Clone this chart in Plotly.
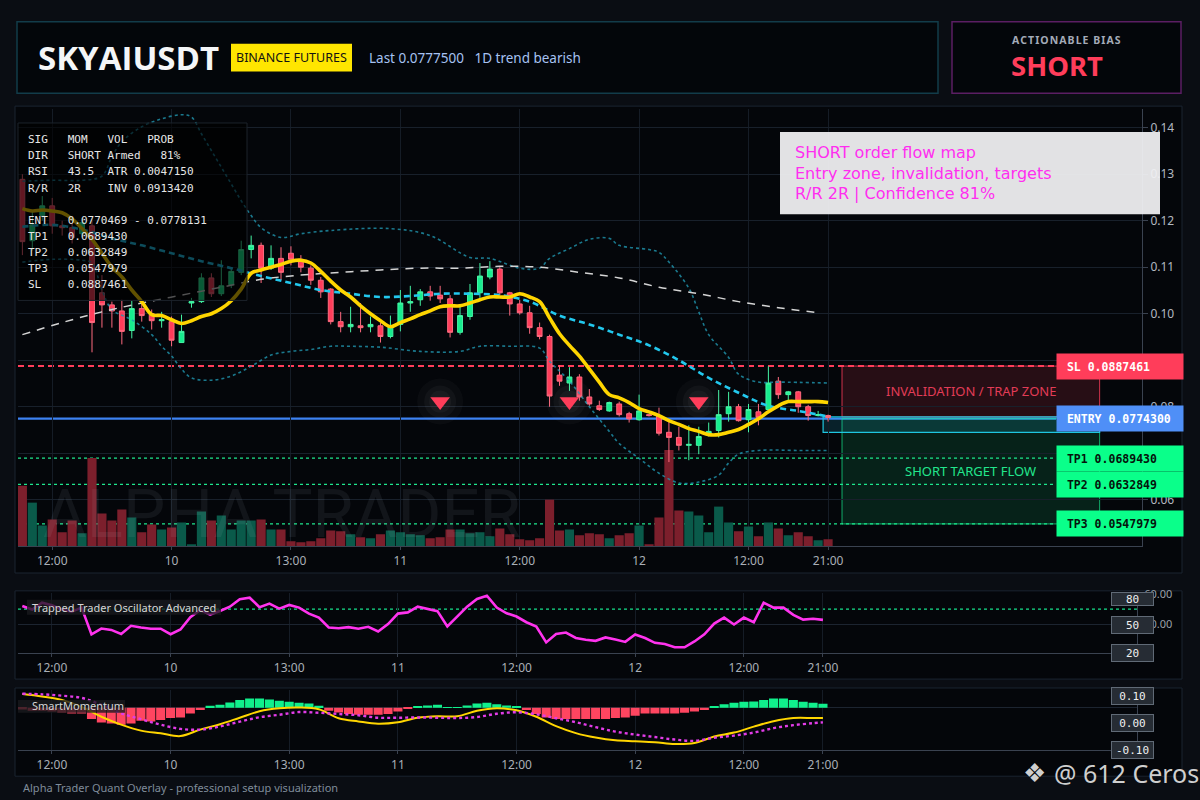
import plotly.graph_objects as go

W, H = 1200, 800

# ---- data --------------------------------------------------------------
BARS = list(range(82))                      # hourly candles, bar number
TICK_BARS = [3, 15, 27, 38, 50, 62, 73, 81]
TICK_TEXT = ["12:00", "10", "13:00", "11", "12:00", "12", "12:00", "21:00"]
PRICE_TICKS = [0.06, 0.07, 0.08, 0.09, 0.10, 0.11, 0.12, 0.13, 0.14]
PRICE_TICK_TEXT = ["0.06", "", "0.08", "", "0.10", "0.11", "0.12", "0.13", "0.14"]  # 0.07/0.09 sit under the level tags

OPEN = [0.1289, 0.1157, 0.1211, 0.1232, 0.1189, 0.1185, 0.1172, 0.1189, 0.1045, 0.1019,
        0.1006, 0.0964, 0.1011, 0.1000, 0.0985, 0.0983, 0.0938, 0.1023, 0.1026, 0.1077,
        0.1043, 0.1062, 0.1089, 0.1138, 0.1147, 0.1098, 0.1119, 0.1130, 0.1117, 0.1098,
        0.1072, 0.1053, 0.0983, 0.0972, 0.0974, 0.0972, 0.0974, 0.0951, 0.0977, 0.1023,
        0.1030, 0.1047, 0.1040, 0.1032, 0.0960, 0.0994, 0.1045, 0.1079, 0.1096, 0.1045,
        0.1021, 0.1002, 0.0970, 0.0951, 0.0868, 0.0851, 0.0864, 0.0821, 0.0802, 0.0791,
        0.0806, 0.0785, 0.0772, 0.0783, 0.0781, 0.0745, 0.0734, 0.0717, 0.0717, 0.0740,
        0.0749, 0.0785, 0.0800, 0.0772, 0.0789, 0.0794, 0.0855, 0.0826, 0.0832, 0.0800,
        0.0781, 0.0781]
HIGH = [0.1300, 0.1221, 0.1253, 0.1249, 0.1200, 0.1194, 0.1206, 0.1200, 0.1083, 0.1026,
        0.1030, 0.1028, 0.1026, 0.1009, 0.1004, 0.0994, 0.0998, 0.1034, 0.1087, 0.1087,
        0.1115, 0.1100, 0.1157, 0.1168, 0.1153, 0.1147, 0.1143, 0.1145, 0.1126, 0.1104,
        0.1079, 0.1055, 0.1004, 0.1015, 0.1023, 0.0994, 0.0981, 0.0996, 0.1051, 0.1060,
        0.1053, 0.1060, 0.1060, 0.1040, 0.1017, 0.1064, 0.1109, 0.1113, 0.1100, 0.1047,
        0.1030, 0.1017, 0.0981, 0.0955, 0.0889, 0.0885, 0.0870, 0.0838, 0.0813, 0.0811,
        0.0811, 0.0789, 0.0826, 0.0785, 0.0798, 0.0774, 0.0757, 0.0760, 0.0757, 0.0766,
        0.0836, 0.0832, 0.0806, 0.0806, 0.0806, 0.0887, 0.0864, 0.0834, 0.0834, 0.0804,
        0.0791, 0.0783]
LOW = [0.1126, 0.1136, 0.1200, 0.1172, 0.1168, 0.1151, 0.1164, 0.0917, 0.0970, 0.0970,
       0.0934, 0.0947, 0.0983, 0.0966, 0.0970, 0.0930, 0.0938, 0.1013, 0.1023, 0.1036,
       0.1038, 0.1055, 0.1083, 0.1119, 0.1066, 0.1094, 0.1072, 0.1104, 0.1089, 0.1062,
       0.1034, 0.0977, 0.0960, 0.0960, 0.0960, 0.0960, 0.0938, 0.0947, 0.0962, 0.1004,
       0.1017, 0.1028, 0.1023, 0.0949, 0.0955, 0.0987, 0.1034, 0.1074, 0.1040, 0.0996,
       0.0998, 0.0957, 0.0945, 0.0800, 0.0845, 0.0834, 0.0813, 0.0802, 0.0791, 0.0789,
       0.0779, 0.0766, 0.0770, 0.0779, 0.0738, 0.0681, 0.0706, 0.0685, 0.0698, 0.0736,
       0.0734, 0.0768, 0.0768, 0.0745, 0.0760, 0.0791, 0.0817, 0.0813, 0.0787, 0.0770,
       0.0779, 0.0768]
CLOSE = [0.1155, 0.1191, 0.1232, 0.1189, 0.1185, 0.1164, 0.1196, 0.0981, 0.1019, 0.1006,
         0.0962, 0.1011, 0.0996, 0.0985, 0.0987, 0.0943, 0.0962, 0.1026, 0.1077, 0.1043,
         0.1060, 0.1091, 0.1138, 0.1147, 0.1098, 0.1119, 0.1089, 0.1117, 0.1100, 0.1072,
         0.1047, 0.0983, 0.0972, 0.0977, 0.0970, 0.0977, 0.0951, 0.0974, 0.1023, 0.1026,
         0.1047, 0.1038, 0.1032, 0.0960, 0.0996, 0.1045, 0.1081, 0.1096, 0.1045, 0.1021,
         0.1002, 0.0970, 0.0951, 0.0823, 0.0855, 0.0864, 0.0821, 0.0806, 0.0794, 0.0809,
         0.0783, 0.0774, 0.0791, 0.0781, 0.0743, 0.0734, 0.0717, 0.0719, 0.0736, 0.0747,
         0.0783, 0.0800, 0.0770, 0.0794, 0.0777, 0.0851, 0.0826, 0.0832, 0.0800, 0.0781,
         0.0783, 0.0777]
VOLUME = [61, 44, 21, 27, 14, 26, 13, 89, 33, 26, 37, 29, 14, 22, 17, 19, 24, 2, 35, 26,
          31, 17, 26, 26, 27, 17, 17, 5, 4, 5, 8, 16, 15, 12, 9, 8, 12, 16, 14, 12,
          11, 8, 9, 17, 17, 13, 14, 10, 18, 12, 7, 6, 8, 47, 16, 17, 11, 13, 12, 8,
          11, 13, 21, 2, 29, 97, 36, 35, 31, 14, 40, 24, 15, 20, 10, 24, 18, 11, 14, 10,
          6, 7]

EMA_FAST = [0.1226, 0.1221, 0.1223, 0.1221, 0.1217, 0.1204, 0.1183, 0.1160, 0.1130, 0.1100,
            0.1079, 0.1051, 0.1026, 0.0998, 0.0996, 0.0987, 0.0979, 0.0985, 0.0994, 0.1000,
            0.1011, 0.1028, 0.1053, 0.1087, 0.1094, 0.1100, 0.1106, 0.1113, 0.1115, 0.1109,
            0.1091, 0.1070, 0.1051, 0.1036, 0.1017, 0.1000, 0.0985, 0.0972, 0.0981, 0.0989,
            0.0998, 0.1006, 0.1015, 0.1017, 0.1017, 0.1023, 0.1030, 0.1036, 0.1036, 0.1036,
            0.1043, 0.1036, 0.1026, 0.0991, 0.0957, 0.0932, 0.0909, 0.0881, 0.0853, 0.0826,
            0.0819, 0.0809, 0.0796, 0.0789, 0.0781, 0.0770, 0.0762, 0.0753, 0.0747, 0.0740,
            0.0740, 0.0745, 0.0751, 0.0762, 0.0774, 0.0789, 0.0802, 0.0811, 0.0811, 0.0811,
            0.0811, 0.0809]

MID_BARS = list(range(0, 82, 3))
MID_BAND = [0.1187, 0.1191, 0.1181, 0.1162, 0.1147, 0.1130, 0.1113, 0.1098, 0.1081, 0.1066,
            0.1051, 0.1043, 0.1036, 0.1038, 0.1043, 0.1043, 0.1040, 0.1026, 0.0996, 0.0977,
            0.0955, 0.0932, 0.0900, 0.0862, 0.0830, 0.0802, 0.0791, 0.0779]

SLOW_BARS = list(range(0, 81, 4))
SLOW_MA = [0.0955, 0.0981, 0.1004, 0.1023, 0.1040, 0.1057, 0.1074, 0.1083, 0.1089, 0.1094,
           0.1098, 0.1098, 0.1102, 0.1100, 0.1089, 0.1077, 0.1057, 0.1043, 0.1026, 0.1013,
           0.1002]

UP_BARS = [0, 3, 6, 8, 9, 10, 12, 14, 16, 17, 18, 19, 20, 21, 22, 23, 24, 26, 28, 31,
           37, 41, 45, 47, 50, 52, 53, 55, 57, 59, 60, 63, 64, 65, 67, 68, 69, 71, 72, 74,
           76, 81]
UP_BAND = [0.1285, 0.1287, 0.1287, 0.1296, 0.1338, 0.1370, 0.1402, 0.1419, 0.1428, 0.1423,
           0.1387, 0.1351, 0.1315, 0.1279, 0.1243, 0.1211, 0.1185, 0.1164, 0.1172, 0.1179,
           0.1183, 0.1168, 0.1121, 0.1119, 0.1098, 0.1098, 0.1119, 0.1140, 0.1160, 0.1162,
           0.1147, 0.1138, 0.1132, 0.1111, 0.1055, 0.1004, 0.0955, 0.0906, 0.0870, 0.0853,
           0.0853, 0.0851]
LO_BARS = [0, 3, 6, 7, 8, 9, 11, 13, 14, 15, 16, 17, 19, 21, 23, 25, 27, 29, 31, 33,
           36, 40, 44, 46, 49, 52, 53, 55, 57, 59, 60, 62, 64, 66, 68, 70, 71, 72, 74, 78,
           81]
LO_BAND = [0.1111, 0.1117, 0.1115, 0.1109, 0.1051, 0.1009, 0.0987, 0.0955, 0.0930, 0.0909,
           0.0881, 0.0862, 0.0857, 0.0866, 0.0887, 0.0911, 0.0919, 0.0923, 0.0930, 0.0930,
           0.0928, 0.0919, 0.0919, 0.0930, 0.0930, 0.0926, 0.0898, 0.0855, 0.0800, 0.0747,
           0.0721, 0.0689, 0.0657, 0.0636, 0.0638, 0.0653, 0.0679, 0.0698, 0.0706, 0.0706,
           0.0706]

SIGNAL_BARS = [42, 55, 68]
SIGNAL_PRICE = [0.0811, 0.0811, 0.0811]

SL = 0.0887461
ENTRY = 0.0774300
ENT_LO, ENT_HI = 0.0770469, 0.0778131
TP1, TP2, TP3 = 0.0689430, 0.0632849, 0.0547979
ENTRY_BOX_LOW = 0.0745

INFO_LINES = [
    "SIG   MOM   VOL   PROB",
    "DIR   SHORT Armed   81%",
    "RSI   43.5  ATR 0.0047150",
    "R/R   2R    INV 0.0913420",
    "",
    "ENT   0.0770469 - 0.0778131",
    "TP1   0.0689430",
    "TP2   0.0632849",
    "TP3   0.0547979",
    "SL    0.0887461",
]
NOTE_LINES = ["SHORT order flow map", "Entry zone, invalidation, targets", "R/R 2R | Confidence 81%"]

OSC = [52.0, 49.7, 54.2, 52.6, 49.7, 48.4, 51.0, 33.6, 37.4, 36.5,
       33.9, 39.2, 38.1, 37.3, 37.3, 33.7, 36.8, 44.8, 49.4, 46.5,
       48.8, 51.6, 56.5, 57.4, 51.3, 53.6, 50.3, 52.7, 51.0, 47.1,
       44.5, 38.1, 37.6, 38.3, 37.3, 38.5, 35.5, 40.3, 47.1, 47.9,
       51.6, 50.0, 48.7, 38.7, 45.2, 51.6, 56.6, 58.7, 51.0, 47.3,
       45.2, 41.5, 38.7, 28.4, 33.9, 34.8, 31.3, 30.1, 29.4, 31.6,
       30.2, 28.7, 33.5, 31.2, 28.1, 27.3, 25.2, 25.2, 29.0, 33.6,
       40.6, 44.5, 40.0, 44.5, 41.5, 54.2, 51.0, 51.0, 46.3, 43.2,
       43.7, 43.0]
OSC_LEVEL = 50

MOM_HIST = [-0.017, -0.030, -0.030, -0.037, -0.047, -0.057, -0.057, -0.113, -0.147, -0.157,
            -0.170, -0.157, -0.130, -0.137, -0.123, -0.103, -0.097, -0.057, -0.023, 0.020,
            0.030, 0.053, 0.080, 0.093, 0.093, 0.083, 0.070, 0.060, 0.050, 0.043,
            0.020, -0.030, -0.047, -0.063, -0.070, -0.070, -0.070, -0.063, -0.037, -0.013,
            0.013, 0.023, 0.030, 0.003, 0.003, 0.023, 0.043, 0.050, 0.037, 0.023,
            0.010, -0.023, -0.063, -0.097, -0.113, -0.113, -0.113, -0.113, -0.113, -0.113,
            -0.103, -0.097, -0.080, -0.057, -0.057, -0.057, -0.057, -0.050, -0.037, -0.023,
            0.013, 0.037, 0.050, 0.060, 0.063, 0.080, 0.093, 0.093, 0.080, 0.060,
            0.050, 0.040]
MOM_BARS = list(range(0, 81, 2)) + [81]
MOM_FAST = [0.140, 0.115, 0.080, 0.010, -0.090, -0.170, -0.230, -0.257, -0.285, -0.220,
            -0.165, -0.100, -0.035, -0.005, 0.003, -0.015, -0.105, -0.137, -0.160, -0.145,
            -0.100, -0.085, -0.085, -0.030, -0.005, -0.025, -0.090, -0.185, -0.255, -0.300,
            -0.328, -0.337, -0.347, -0.365, -0.355, -0.290, -0.250, -0.190, -0.135, -0.103,
            -0.103, -0.103]
MOM_SLOW = [0.142, 0.136, 0.122, 0.100, 0.030, -0.055, -0.115, -0.170, -0.213, -0.220,
            -0.188, -0.140, -0.095, -0.070, -0.043, -0.050, -0.062, -0.075, -0.100, -0.100,
            -0.097, -0.100, -0.103, -0.093, -0.060, -0.045, -0.065, -0.105, -0.145, -0.195,
            -0.240, -0.270, -0.295, -0.320, -0.333, -0.302, -0.280, -0.250, -0.205, -0.175,
            -0.155, -0.147]

# ---- colours -------------------------------------------------------------
BG = "#0a0d13"
PANEL = "#04060a"
GRID = "#151c26"
AXIS = "#3a4250"
GREEN = "#17ec8e"
RED = "#ff3d5a"
YELLOW = "#ffd500"
MAGENTA = "#ff33ee"


def px(x):
    return x / W


def py(y):
    return 1 - y / H


shapes = []
annotations = []


def rect(x0, y0, x1, y1, fill, line=None, lw=1.0, layer="below"):
    shapes.append(dict(type="rect", xref="paper", yref="paper",
                       x0=px(x0), x1=px(x1), y0=py(y1), y1=py(y0),
                       fillcolor=fill, layer=layer,
                       line=dict(color=line if line else fill, width=lw if line else 0)))


def label(x, y, s, size, color, family="Noto Sans", anchor="left", weight="normal"):
    annotations.append(dict(xref="paper", yref="paper", x=px(x), y=py(y), text=s,
                            showarrow=False, xanchor=anchor, yanchor="middle",
                            font=dict(size=size, color=color, family=family, weight=weight)))


def nb(s):
    return s.replace(" ", "\u00a0")


fig = go.Figure()

# volume underneath everything (base axis of the price panel)
vol_colors = ["#0a5a4a" if c >= o else "#7c1f2c" for o, c in zip(OPEN, CLOSE)]
fig.add_trace(go.Bar(x=BARS, y=VOLUME, marker=dict(color=vol_colors, line=dict(width=0)),
                     xaxis="x", yaxis="y", hoverinfo="skip"))

# faint watermark, clipped by the plot area
fig.add_trace(go.Scatter(x=[26.1], y=[0.0556], mode="text", text=["ALPHA TRADER"],
                         textfont=dict(size=67, family="Roboto", color="rgba(215,225,235,0.07)"),
                         xaxis="x", yaxis="y2", hoverinfo="skip", cliponaxis=True))

band = dict(color="rgba(32,150,175,0.8)", width=1.6, dash="dot")
fig.add_trace(go.Scatter(x=UP_BARS, y=UP_BAND, mode="lines", line=dict(shape="spline", **band),
                         xaxis="x", yaxis="y2", hoverinfo="skip"))
fig.add_trace(go.Scatter(x=LO_BARS, y=LO_BAND, mode="lines", line=dict(shape="spline", **band),
                         xaxis="x", yaxis="y2", hoverinfo="skip"))
fig.add_trace(go.Scatter(x=SLOW_BARS, y=SLOW_MA, mode="lines",
                         line=dict(color="#d4d4d4", width=1.5, dash="8px,7px", shape="spline"),
                         xaxis="x", yaxis="y2", hoverinfo="skip"))

fig.add_trace(go.Candlestick(x=BARS, open=OPEN, high=HIGH, low=LOW, close=CLOSE,
                             increasing=dict(fillcolor=GREEN, line=dict(color="#45f5a5", width=1)),
                             decreasing=dict(fillcolor=RED, line=dict(color="#ff6a7f", width=1)),
                             whiskerwidth=0, xaxis="x", yaxis="y2", hoverinfo="skip"))

fig.add_trace(go.Scatter(x=MID_BARS, y=MID_BAND, mode="lines",
                         line=dict(color="#22c8ee", width=2.6, dash="6px,4px", shape="spline"),
                         xaxis="x", yaxis="y2", hoverinfo="skip"))
fig.add_trace(go.Scatter(x=BARS, y=EMA_FAST, mode="lines",
                         line=dict(color=YELLOW, width=3.6, shape="spline"),
                         xaxis="x", yaxis="y2", hoverinfo="skip"))

# short signals with a soft halo
for size, alpha in [(46, 0.04), (32, 0.05), (22, 0.05)]:
    fig.add_trace(go.Scatter(x=SIGNAL_BARS, y=SIGNAL_PRICE, mode="markers",
                             marker=dict(symbol="circle", size=size,
                                         color=f"rgba(170,170,185,{alpha})", line=dict(width=0)),
                             xaxis="x", yaxis="y2", hoverinfo="skip"))
fig.add_trace(go.Scatter(x=SIGNAL_BARS, y=SIGNAL_PRICE, mode="markers",
                         marker=dict(symbol="triangle-down", size=17, color=RED, line=dict(width=0)),
                         xaxis="x", yaxis="y2", hoverinfo="skip"))

# oscillator panel
fig.add_trace(go.Scatter(x=BARS, y=OSC, mode="lines", line=dict(color=MAGENTA, width=2.6),
                         xaxis="x2", yaxis="y3", hoverinfo="skip"))

# momentum panel
hist_colors = ["#10f08c" if v >= 0 else "#ff4560" for v in MOM_HIST]
fig.add_trace(go.Bar(x=BARS, y=MOM_HIST, marker=dict(color=hist_colors, line=dict(width=0)),
                     xaxis="x3", yaxis="y4", hoverinfo="skip"))
fig.add_trace(go.Scatter(x=MOM_BARS, y=MOM_FAST, mode="lines",
                         line=dict(color=YELLOW, width=2, shape="spline"),
                         xaxis="x3", yaxis="y4", hoverinfo="skip"))
fig.add_trace(go.Scatter(x=MOM_BARS, y=MOM_SLOW, mode="lines",
                         line=dict(color="#e23ce8", width=2.4, dash="dot", shape="spline"),
                         xaxis="x3", yaxis="y4", hoverinfo="skip"))

# ---- frames and header ------------------------------------------------------
rect(17, 15, 938, 87, "#03060a", "#123c4a", 1.5)
rect(952, 15, 1181, 87, "#03060a", "#5b1e63", 1.5)
rect(15, 100, 1182, 571, PANEL, "#1a2430", 1)
rect(15, 589, 1182, 678, PANEL, "#1a2430", 1)
rect(15, 687, 1182, 776, PANEL, "#1a2430", 1)

label(36, 51, "SKYAIUSDT", 33, "#f4f6f8", family="Open Sans", weight="bold")
rect(231, 37, 352, 65, "#ffe600")
label(291.5, 51, "BINANCE FUTURES", 12.5, "#121212", anchor="center")
label(367, 51, "Last 0.0777500\u00a0\u00a0\u00a01D trend bearish", 13.5, "#a6c2f2")
label(1010, 33, "\u200a".join("ACTIONABLE BIAS"), 10.5, "#a3abb8", weight="bold")
label(1009, 59, "SHORT", 27.5, RED, weight="bold")

# ---- price levels and zones ------------------------------------------------
zone_x0, zone_x1 = len(BARS) + 0.4, len(BARS) + 26.3
shapes.append(dict(type="rect", xref="x", yref="y2", x0=zone_x0, x1=zone_x1, y0=ENT_HI, y1=SL,
                   fillcolor="rgba(255,61,90,0.14)", line=dict(color="rgba(255,61,90,0.8)", width=1),
                   layer="below"))
shapes.append(dict(type="rect", xref="x", yref="y2", x0=zone_x0, x1=zone_x1, y0=TP3, y1=ENTRY,
                   fillcolor="rgba(23,236,142,0.12)", line=dict(color="rgba(23,236,142,0.7)", width=1),
                   layer="below"))
shapes.append(dict(type="rect", xref="x", yref="y2", x0=len(BARS) - 1.5, x1=zone_x1,
                   y0=ENTRY_BOX_LOW, y1=ENT_HI,
                   fillcolor="rgba(34,200,238,0.14)", line=dict(color="#1fc6e0", width=1.2),
                   layer="below"))

line_x1 = px(1056)
shapes.append(dict(type="line", xref="paper", yref="y2", x0=px(18), x1=line_x1, y0=SL, y1=SL,
                   line=dict(color=RED, width=2, dash="6px,4px"), layer="below"))
shapes.append(dict(type="line", xref="paper", yref="y2", x0=px(18), x1=line_x1, y0=ENTRY, y1=ENTRY,
                   line=dict(color="#3d82f2", width=2.2), layer="below"))
for lvl in (TP1, TP2, TP3):
    shapes.append(dict(type="line", xref="paper", yref="y2", x0=px(18), x1=line_x1, y0=lvl, y1=lvl,
                       line=dict(color="#1ee68e", width=1.2, dash="dot"), layer="below"))

annotations.append(dict(xref="x", yref="y2", x=(zone_x0 + zone_x1) / 2, y=(SL + ENT_HI) / 2,
                        text="INVALIDATION / TRAP ZONE", showarrow=False,
                        font=dict(size=13, color="#e23c57", family="Noto Sans")))
annotations.append(dict(xref="x", yref="y2", x=(zone_x0 + zone_x1) / 2, y=(ENTRY + TP3) / 2,
                        text="SHORT TARGET FLOW", showarrow=False,
                        font=dict(size=13, color="#22e68d", family="Noto Sans")))

for name, lvl, bg, fg in [("SL", SL, "#ff3d5a", "#ffffff"), ("ENTRY", ENTRY, "#4f8ff7", "#ffffff"),
                          ("TP1", TP1, "#0aff8a", "#05140c"), ("TP2", TP2, "#0aff8a", "#05140c"),
                          ("TP3", TP3, "#0aff8a", "#05140c")]:
    annotations.append(dict(xref="paper", yref="y2", x=px(1056), y=lvl, xanchor="left", yanchor="middle",
                            text="\u00a0" + nb(f"{name} {lvl:.7f}"), showarrow=False, align="left",
                            width=120, height=19, borderpad=3, bgcolor=bg,
                            font=dict(size=11.5, color=fg, family="DejaVu Sans Mono", weight="bold")))

# info overlay top-left
rect(18, 117, 247, 296, "rgba(0,0,0,0.62)", "#1c232b", 1, layer="above")
for k, s in enumerate(INFO_LINES):
    if s:
        label(26, 134 + k * 16.2, nb(s), 11, "#e6e6e6", family="DejaVu Sans Mono")

# note box top-right
rect(780, 126, 1160, 209, "rgba(240,240,242,0.94)", layer="above")
for k, s in enumerate(NOTE_LINES):
    label(793, 147 + k * 20.5, s, 16, "#ff2ef0", family="DejaVu Sans")

# oscillator / momentum captions and value boxes
rect(27, 598, 221, 613, "rgba(26,26,30,0.78)", layer="above")
label(30, 605.5, "Trapped Trader Oscillator Advanced", 11, "#d6d6d6")
rect(18, 699, 125, 712, "rgba(26,26,30,0.78)", layer="above")
label(30, 704.5, "SmartMomentum", 11, "#d6d6d6")

for s, yc, hgt in [("80", 604, 10), ("50", 633, 14), ("20", 661, 14),
                   ("0.10", 704.5, 14), ("0.00", 731, 14), ("-0.10", 759, 14)]:
    annotations.append(dict(xref="paper", yref="paper", x=px(1153.5), y=py(yc), text=s,
                            showarrow=False, width=39, height=hgt, borderpad=1,
                            bgcolor="#262c34", bordercolor="#606a76", borderwidth=1,
                            font=dict(size=11, color="#f0f0f0", family="DejaVu Sans Mono")))

shapes.append(dict(type="line", xref="x2 domain", yref="y3", x0=0, x1=1, y0=OSC_LEVEL, y1=OSC_LEVEL,
                   line=dict(color="#16e08a", width=1.2, dash="dot"), layer="below"))

label(21, 787, "Alpha Trader Quant Overlay - professional setup visualization", 11, "#7f8c9a")
label(1034, 773, "\u2756", 26, "#cfcfcf", family="DejaVu Sans", anchor="center")
label(1052, 773, "@ 612 Ceros", 25, "#cfcfcf")

# ---- axes ------------------------------------------------------------------
tickfont = dict(size=12, color="#a9afb7", family="Noto Sans")
xcommon = dict(tickmode="array", tickvals=TICK_BARS, ticktext=TICK_TEXT, showgrid=True,
               gridcolor=GRID, gridwidth=1, zeroline=False, showline=True, linecolor=AXIS,
               ticks="outside", ticklen=3, tickcolor=AXIS, tickfont=tickfont, fixedrange=True)

fig.update_layout(
    width=W, height=H, margin=dict(l=0, r=0, t=0, b=0),
    paper_bgcolor=BG, plot_bgcolor=PANEL, showlegend=False, bargap=0.08,
    xaxis=dict(domain=[px(18), px(1142)], range=[-0.44, 112.56], anchor="y",
               rangeslider=dict(visible=False), **xcommon),
    yaxis=dict(domain=[py(544), py(103)], range=[0, 441], visible=False, fixedrange=True),
    yaxis2=dict(overlaying="y", side="right", anchor="x", range=[0.0500, 0.1440],
                tickmode="array", tickvals=PRICE_TICKS, ticktext=PRICE_TICK_TEXT,
                showgrid=True, gridcolor="#18202b", zeroline=False,
                showline=True, linecolor=AXIS, ticks="outside", ticklen=5, tickcolor=AXIS,
                tickfont=dict(size=12, color="#b2b8c0", family="Noto Sans")),
    xaxis2=dict(domain=[px(18), px(1137)], range=[-0.435, 112.77], anchor="y3", **xcommon),
    yaxis3=dict(domain=[py(652), py(591)], range=[21.3, 60.6], anchor="x2", side="right",
                tickmode="array", tickvals=[40, 60], tickformat=".2f", showgrid=True,
                gridcolor="#1c2430", zeroline=False, showline=True, linecolor=AXIS,
                ticks="outside", ticklen=4, tickcolor=AXIS,
                tickfont=dict(size=11, color="#9aa0a8", family="Noto Sans")),
    xaxis3=dict(domain=[px(18), px(1137)], range=[-0.435, 112.77], anchor="y4", **xcommon),
    yaxis4=dict(domain=[py(750), py(689)], range=[-0.43, 0.18], anchor="x3", side="right",
                tickmode="array", tickvals=[0], showticklabels=False, showgrid=True,
                gridcolor="#1c2430", zeroline=False, showline=True, linecolor=AXIS),
    shapes=shapes, annotations=annotations,
)

# the page's default body margin would push the 1200x800 figure off the window
fig.write_html("out.html", config={"displayModeBar": False},
               post_script="document.body.style.margin='0px';document.body.style.overflow='hidden';")
